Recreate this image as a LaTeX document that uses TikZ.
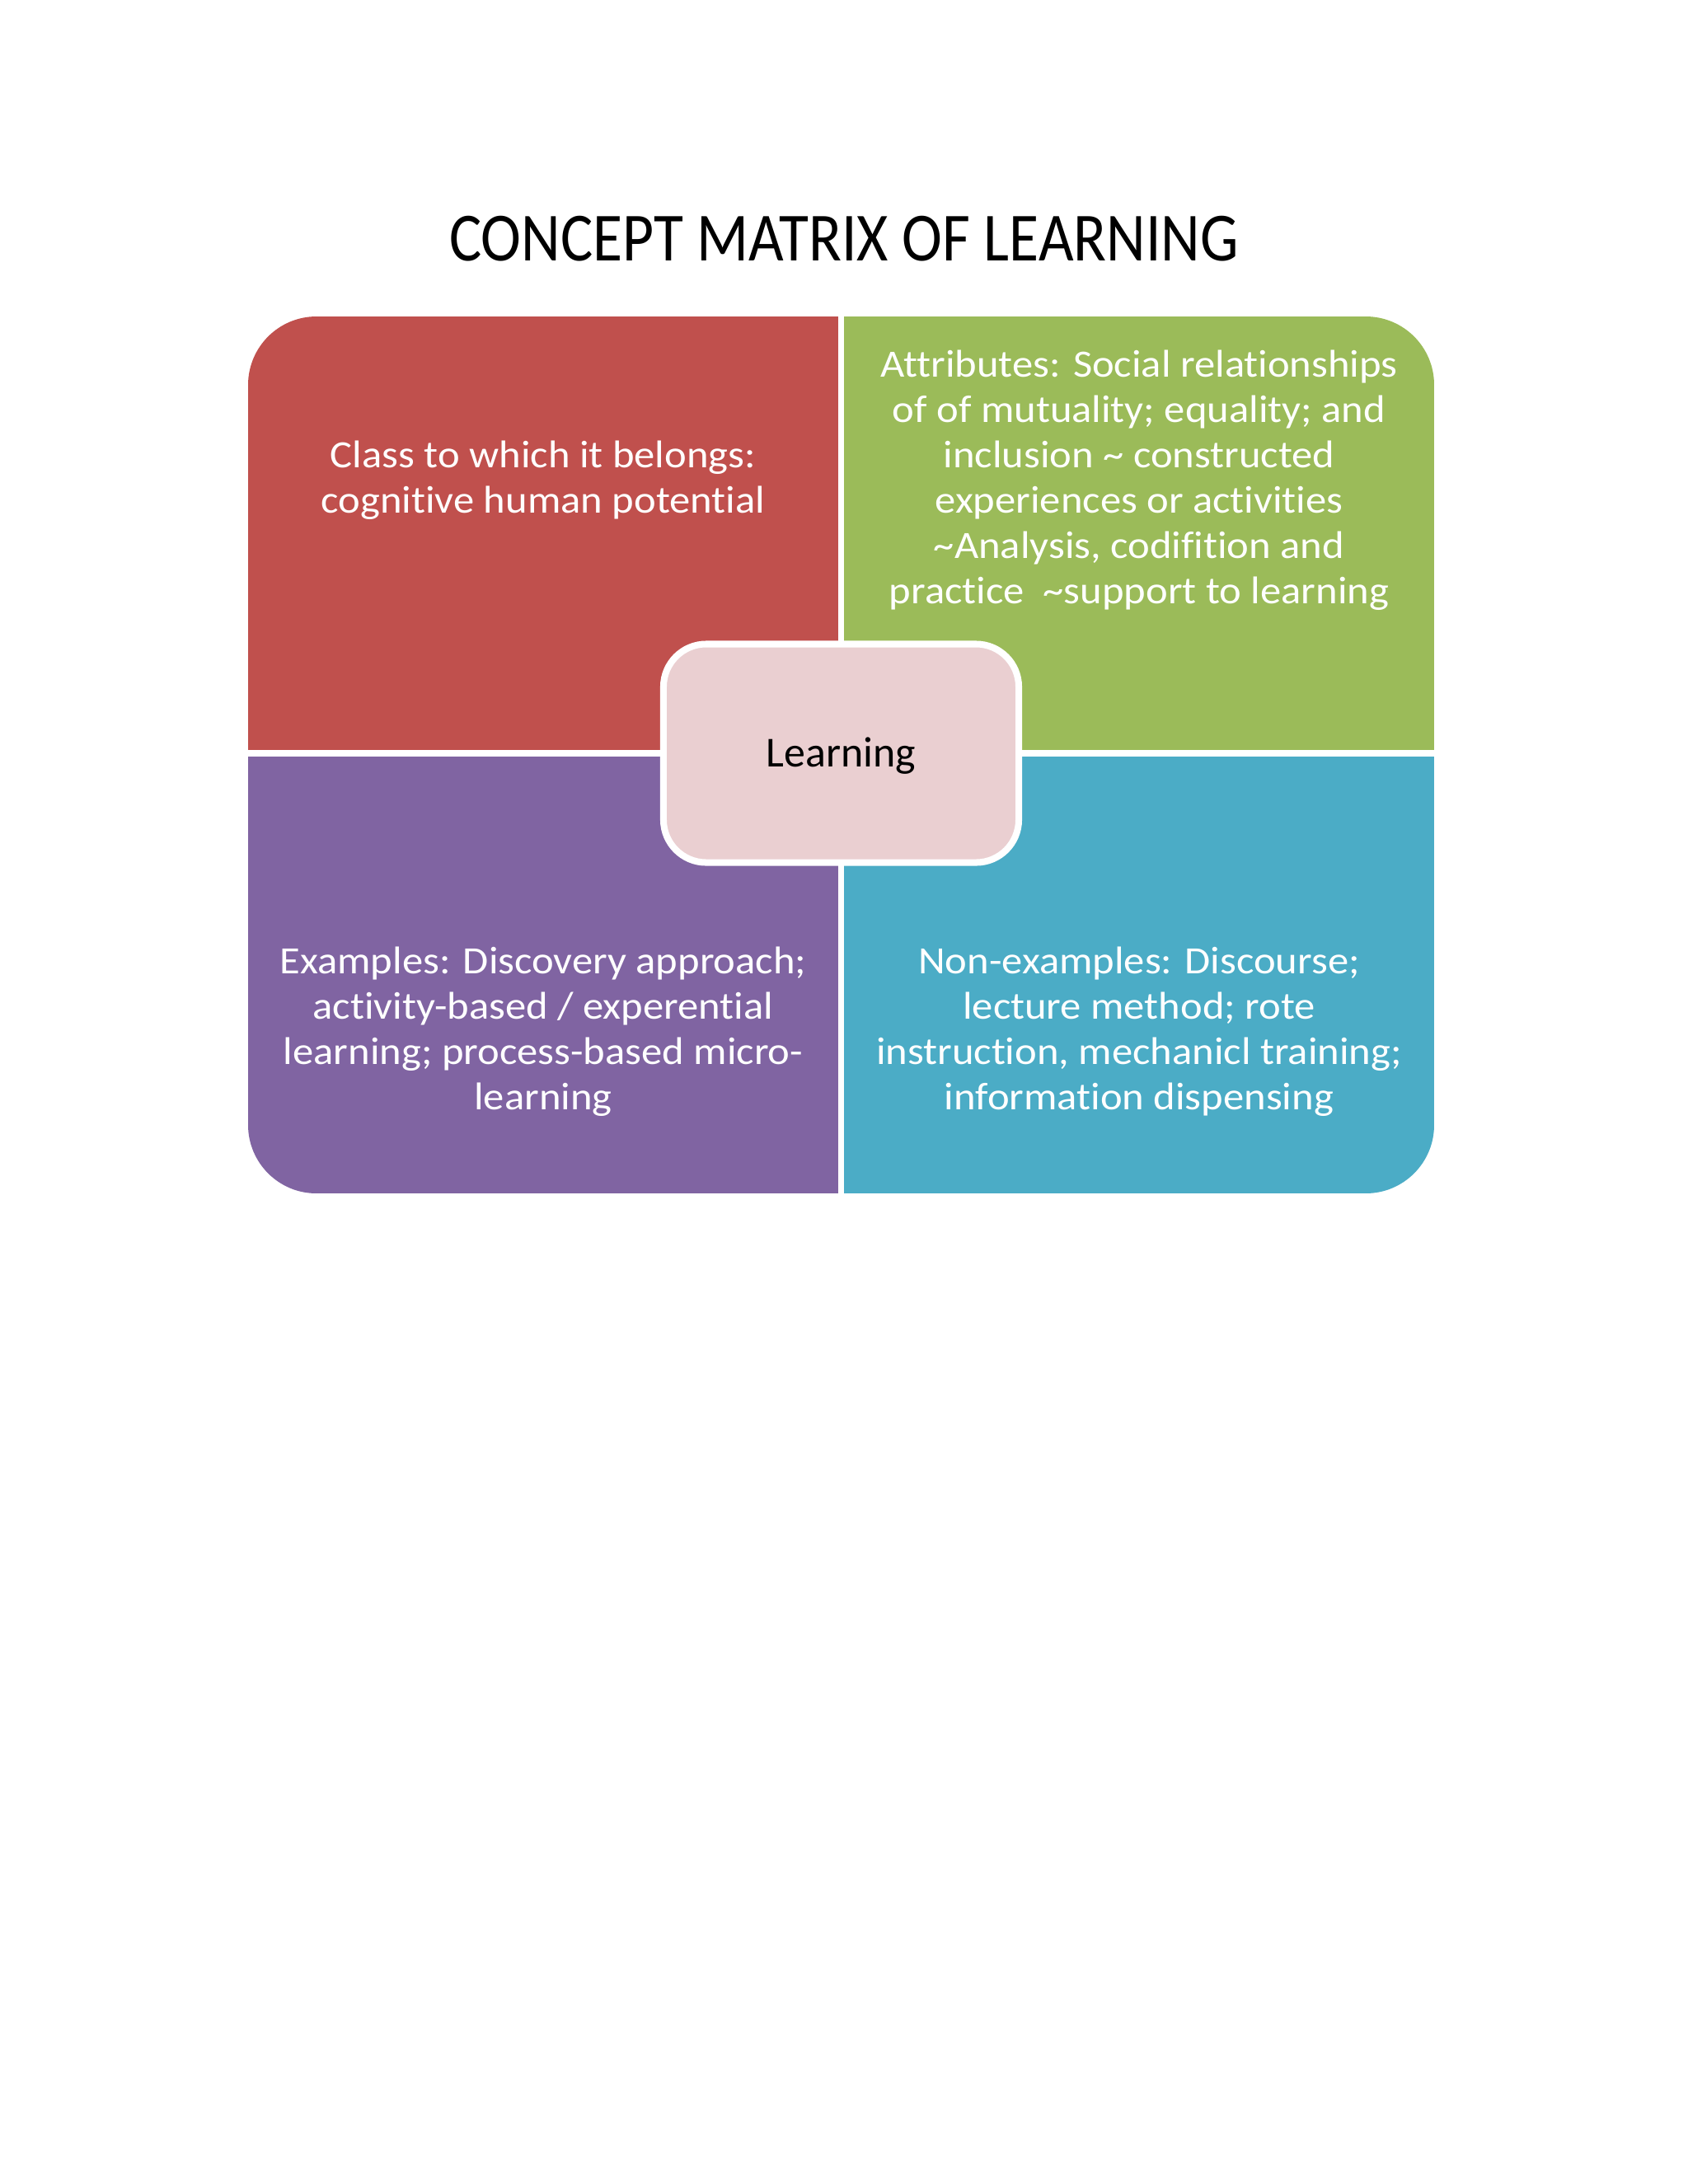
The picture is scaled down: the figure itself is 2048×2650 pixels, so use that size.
\documentclass[tikz,border=0pt]{standalone}
\usepackage{fontspec}
\setmainfont{Carlito}[Ligatures=NoCommon]
\newfontfamily\bodyfont{Carlito}[FakeStretch=1.08, Ligatures=NoCommon]
\newfontfamily\titlefont{Carlito}[FakeStretch=0.88, Ligatures=NoCommon]
\definecolor{qred}{HTML}{C0504D}
\definecolor{qgreen}{HTML}{9BBB59}
\definecolor{qpurple}{HTML}{8064A2}
\definecolor{qblue}{HTML}{4BACC6}
\definecolor{qpink}{HTML}{EACFD1}
\begin{document}
\begin{tikzpicture}[x=0.2988bp,y=-0.2988bp,
  quadtext/.style={text=white, align=center, inner sep=0pt,
    font=\bodyfont\fontsize{14bp}{16.45bp}\selectfont},
  titletext/.style={text=black, inner sep=0pt, font=\titlefont\fontsize{25bp}{30bp}\selectfont},
  centerbox/.style={draw=white, line width=2.4bp, fill=qpink, rounded corners=15.5bp,
    minimum width=128.8bp, minimum height=79.2bp, inner sep=0pt,
    text height=11bp, text depth=1.4bp,
    font=\fontsize{15.5bp}{18bp}\selectfont, text=black}]
\useasboundingbox[fill=white] (0,0) rectangle (2048,2650);
\node[titletext, anchor=base] (title) at (1024,316) {CONCEPT MATRIX OF LEARNING};
\begin{scope}
\clip[rounded corners=24.8bp] (301,384) rectangle (1740,1448);
\fill[qred] (301,384) rectangle (1017,910);
\fill[qgreen] (1024,384) rectangle (1740,910);
\fill[qpurple] (301,918) rectangle (1017,1448);
\fill[qblue] (1024,918) rectangle (1740,1448);
\end{scope}
\node[quadtext] (class) at (659,583) {Class to which it belongs:\\cognitive human potential};
\node[quadtext] (attr) at (1382,583) {Attributes: Social relationships\\of of mutuality; equality; and\\inclusion \textasciitilde\ constructed\\experiences or activities\\\textasciitilde Analysis, codifition and\\practice\ \ \textasciitilde support to learning};
\node[quadtext] (examples) at (659,1252) {Examples: Discovery approach;\\activity-based / experential\\learning; process-based micro-\\learning};
\node[quadtext] (nonex) at (1382,1252) {Non-examples: Discourse;\\lecture method; rote\\instruction, mechanicl training;\\information dispensing};
\node[centerbox] (learning) at (1020.5,914) {Learning};
\end{tikzpicture}
\end{document}
